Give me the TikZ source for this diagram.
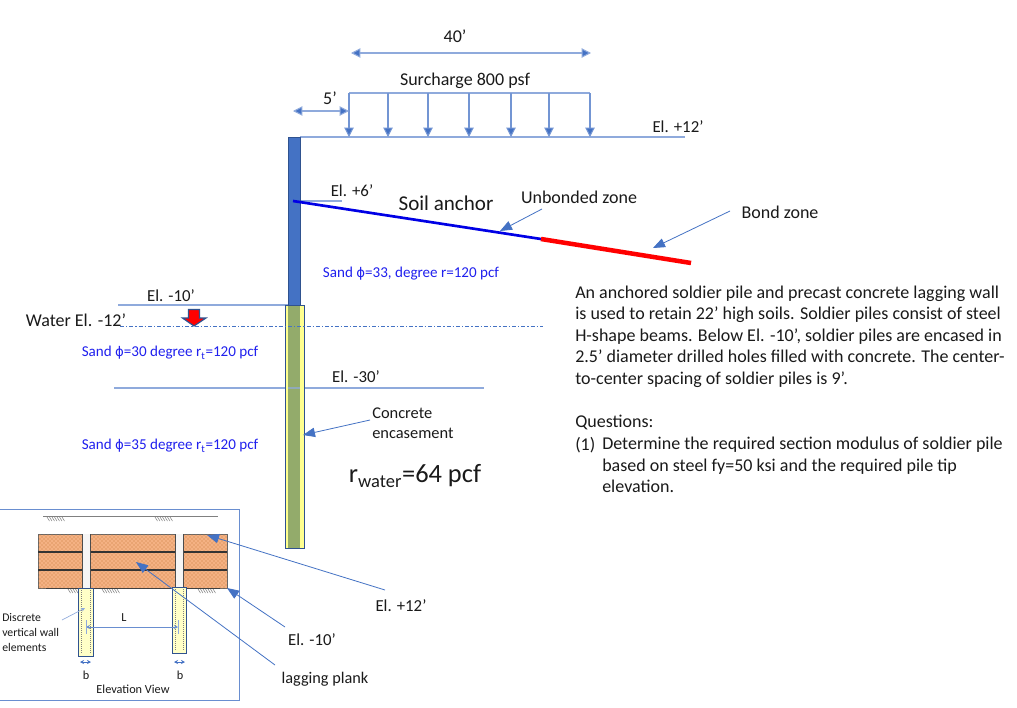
\documentclass[tikz,border=0pt]{standalone}
\usepackage{fontspec}
\setmainfont{Carlito}
\usetikzlibrary{arrows.meta,patterns}
\definecolor{ln}{HTML}{8FAADC}
\definecolor{arr}{HTML}{4472C4}
\definecolor{sandblue}{HTML}{2020EE}
\definecolor{pileblue}{HTML}{4472C4}
\definecolor{pilegreen}{HTML}{93AB6B}
\definecolor{pileyellow}{HTML}{FFFF8F}
\definecolor{darkblue}{HTML}{2F528F}
\definecolor{brick}{HTML}{F4B183}
\definecolor{brickdot}{HTML}{C87A3C}
\definecolor{txt}{HTML}{1A1A1A}
\newcommand{\phisym}{{\fontspec{DejaVu Sans}\fontsize{10}{12}\selectfont ϕ}}
\tikzset{
 x=0.75pt,y=-0.75pt,
 lab/.style={inner sep=0,font=\fontsize{13.5}{16}\selectfont,text=txt},
 ellab/.style={inner sep=0,font=\fontsize{12.6}{16}\selectfont,text=txt},
 sand/.style={inner sep=0,font=\fontsize{11.3}{13}\selectfont,text=sandblue},
 tiny/.style={inner sep=0,font=\fontsize{9.2}{11}\selectfont,text=txt},
 body/.style={inner sep=0,anchor=north west,align=left,font=\fontsize{13.5}{16.1}\selectfont,text=txt},
 thin line/.style={draw=ln,line width=0.8pt},
 load/.style={draw=arr!75,line width=0.8pt,-{Triangle[length=7pt,width=7pt,fill=arr]}},
 dim/.style={draw=ln,line width=0.8pt,{Triangle[length=7pt,width=7pt,fill=arr]}-{Triangle[length=7pt,width=7pt,fill=arr]}},
 leader/.style={draw=arr,line width=0.6pt,-{Triangle[length=9pt,width=7pt,fill=arr]}},
 small dim/.style={draw=arr,line width=0.5pt,{Stealth[length=3pt,width=3pt]}-{Stealth[length=3pt,width=3pt]}},
 hatch/.style={draw=gray,line width=0.4pt},
 minipile/.style={draw=darkblue,line width=1.1pt,fill=pileyellow!50},
}
\begin{document}
\begin{tikzpicture}
\useasboundingbox (0,0) rectangle (1017,707);
\fill[white] (0,0) rectangle (1017,707);
% ground and elevation lines
\coordinate (g1) at (300,137); \coordinate (g2) at (685,137);
\draw[thin line] (g1) -- (g2);
\coordinate (a1) at (118,305); \coordinate (a2) at (288,305);
\draw[thin line] (a1) -- (a2);
\coordinate (b1) at (114,388); \coordinate (b2) at (484,388);
\draw[thin line] (b1) -- (b2);
\coordinate (e1) at (293,201); \coordinate (e2) at (342,201);
\draw[thin line] (e1) -- (e2);
% pile
\node[draw=darkblue,line width=0.8pt,fill=pileblue,minimum width=9pt,minimum height=126pt,inner sep=0,anchor=north west] (pile) at (288,137) {};
\node[draw=darkblue,line width=0.9pt,fill=pileyellow,minimum width=14.2pt,minimum height=182.2pt,inner sep=0,anchor=north west] (encase) at (285,305) {};
\fill[pilegreen] (288,305.5) rectangle (300,547.5);
\draw[ln,line width=0.8pt,opacity=.7] (288,388) -- (300,388);
\coordinate (w1) at (120,326); \coordinate (w2) at (543,326);
\draw[draw=arr,line width=0.5pt,dash pattern=on 3pt off 1.5pt on 1pt off 1.5pt] (w1) -- (w2);
% anchor
\coordinate (anc) at (293,201); \coordinate (bondstart) at (541,239); \coordinate (bondend) at (691,263);
\draw[blue!90!black,line width=2pt] (anc) -- (bondstart);
\draw[red,line width=3.4pt] (bondstart) -- (bondend);
% surcharge
\coordinate (s0) at (349,93); \coordinate (s6) at (590,93);
\draw[draw=ln,line width=0.8pt] (s0) -- (s6);
\foreach \x in {349,388,428,469,511,549,590}{\draw[load] (\x,93) -- (\x,137);}
\coordinate (d1) at (293,111); \coordinate (d2) at (349,111);
\draw[dim] (d1) -- (d2);
\coordinate (d3) at (351,53); \coordinate (d4) at (591,53);
\draw[dim] (d3) -- (d4);
% water marker
\draw[darkblue,line width=0.9pt,fill=red,line join=miter] (188.5,309.5) -- (199.5,309.5) -- (199.5,318) -- (206,318) -- (194,326) -- (182.5,318) -- (188.5,318) -- cycle;
% labels
\node[lab] (t40) at (455,36) {40’};
\node[lab] (t5) at (330,98) {5’};
\node[lab] (tsur) at (465,81) {Surcharge 800 psf};
\node[ellab] (t12) at (678,127) {El. +12’};
\node[ellab] (t6) at (352,191) {El. +6’};
\node[inner sep=0,font=\fontsize{15.8}{18}\selectfont,text=txt] (tsoil) at (446,203) {Soil anchor};
\node[lab] (tunb) at (579,197) {Unbonded zone};
\node[lab] (tbond) at (780,212) {Bond zone};
\node[ellab] (tm10) at (171,296) {El. -10’};
\node[lab] (tw) at (76,320) {Water El. -12’};
\node[ellab] (tm30) at (356,377) {El. -30’};
\node[sand] (s1) at (411,274) {Sand \phisym=33, degree r=120 pcf};
\node[sand] (s2) at (170,353) {Sand \phisym=30 degree r\textsubscript{t}=120 pcf};
\node[sand] (s3) at (170,446) {Sand \phisym=35 degree r\textsubscript{t}=120 pcf};
\node[inner sep=0,text=txt,anchor=west,align=left,font=\fontsize{12.3}{15}\selectfont] (tconc) at (372,423) {Concrete\\encasement};
\node[inner sep=0,text=txt,font=\fontsize{19.8}{22}\selectfont] (trw) at (415,476) {r\textsubscript{water}=64 pcf};
% leaders
\coordinate (l1) at (542,209); \coordinate (l1e) at (500,231);
\draw[leader] (l1) -- (l1e);
\coordinate (l2) at (730,211); \coordinate (l2e) at (653,248);
\draw[leader] (l2) -- (l2e);
\coordinate (l3) at (370,420); \coordinate (l3e) at (303,435);
\draw[leader] (l3) -- (l3e);
% text block
\node[body] (para) at (575,285.5) {An anchored soldier pile and precast concrete lagging wall\\
is used to retain 22’ high soils. Soldier piles consist of steel\\
H-shape beams. Below El. -10’, soldier piles are encased in\\
2.5’ diameter drilled holes filled with concrete. The center-\\
to-center spacing of soldier piles is 9’.};
\node[body] (qh) at (575,415) {Questions:};
\node[body] (q1n) at (575,437) {(1)};
\node[body] (q1) at (602,437) {Determine the required section modulus of soldier pile\\
based on steel fy=50 ksi and the required pile tip\\
elevation.};
% elevation view
\node[draw=arr!80,line width=0.9pt,minimum width=180pt,minimum height=143.25pt,inner sep=0,anchor=north west] (frame) at (-1,509) {};
\coordinate (tg1) at (43,516); \coordinate (tg2) at (218,516);
\draw[gray,line width=0.6pt] (tg1) -- (tg2);
\foreach \x/\y in {47/517,155/517,102/589,198/589,68/589}{
 \foreach \i in {0,...,6}{\draw[hatch] (\x+\i*2.5,\y) -- (\x+\i*2.5+2.5,\y+4);}
}
\node[draw=gray!80!black,line width=0.5pt,fill=brick,minimum width=141.75pt,minimum height=40.5pt,inner sep=0,anchor=north west] (wall) at (38,534) {};
\fill[pattern=crosshatch dots,pattern color=brickdot] (38,534) rectangle (227,588);
\draw[black!80,line width=0.9pt] (38,552) -- (227,552) (38,570) -- (227,570);
\fill[gray!8] (82,534) rectangle (90,588);
\fill[gray!8] (175,534) rectangle (183,588);
\draw[black!70,line width=0.7pt] (82,534)--(82,588) (90,534)--(90,588) (175,534)--(175,588) (183,534)--(183,588);
\draw[black!75,line width=0.7pt] (46,588)--(220,588);
\node[minipile,minimum width=11.2pt,minimum height=51pt,inner sep=0,anchor=north west] (p1) at (78,588) {};
\node[minipile,minimum width=10.5pt,minimum height=49.5pt,inner sep=0,anchor=north west] (p2) at (172,587) {};
\draw[black!50,densely dotted,line width=0.5pt] (81,590)--(81,654) (90,590)--(90,654) (175,589)--(175,651) (183,589)--(183,651);
\coordinate (la) at (86,627); \coordinate (lb) at (178,627);
\draw[draw=arr!80,line width=0.5pt,{Stealth[length=3pt,width=3pt]}-{Stealth[length=3pt,width=3pt]}] (la) -- (lb);
\draw[ln,line width=0.5pt] (86,620)--(86,634) (178,620)--(178,634);
\coordinate (b1a) at (80,662); \coordinate (b1b) at (91,662);
\draw[small dim] (b1a) -- (b1b);
\coordinate (b2a) at (174,662); \coordinate (b2b) at (185,662);
\draw[small dim] (b2a) -- (b2b);
\coordinate (dl) at (62,620); \coordinate (dle) at (85,608);
\draw[draw=ln,line width=0.5pt,-{Stealth[length=3pt,width=3pt]}] (dl) -- (dle);
\node[tiny] (tL) at (124,618) {L};
\node[tiny] (tb1) at (86,675) {b};
\node[tiny] (tb2) at (180,675) {b};
\node[tiny] (tev) at (133,689) {Elevation View};
\node[tiny,anchor=west,align=left,font=\fontsize{8.8}{11}\selectfont] (tdisc) at (2,632.5) {Discrete\\vertical wall\\elements};
% plan labels
\node[ellab] (tp12) at (401,606) {El. +12’};
\node[ellab] (tp10) at (312,640) {El. -10’};
\node[inner sep=0,font=\fontsize{12.2}{16}\selectfont,text=txt] (tpl) at (325,679) {lagging plank};
\coordinate (m1) at (385,590); \coordinate (m1e) at (207,535);
\draw[leader] (m1) -- (m1e);
\coordinate (m2) at (285,627); \coordinate (m2e) at (227,588);
\draw[leader] (m2) -- (m2e);
\coordinate (m3) at (275,665); \coordinate (m3e) at (136,562);
\draw[leader] (m3) -- (m3e);
\end{tikzpicture}
\end{document}
